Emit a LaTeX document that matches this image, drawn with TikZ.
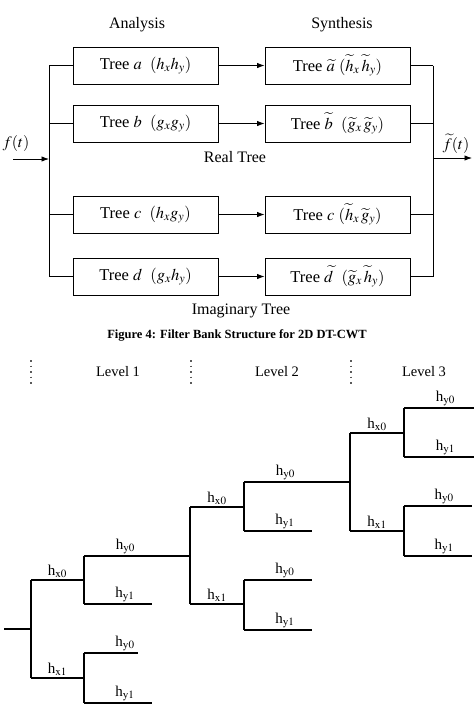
\documentclass[tikz,border=0pt]{standalone}
\usepackage{mathptmx}
\usepackage{fontspec}
\setmainfont{Liberation Serif}
\usetikzlibrary{positioning,arrows.meta}

\begin{document}
\begin{tikzpicture}[x=1pt,y=-1pt,
      treebox/.style={shape=rectangle, draw=black, line width=0.9pt, minimum width=145pt, minimum height=37pt, inner sep=0pt, font=\fontsize{16.5}{19}\selectfont},
      lbl/.style={font=\fontsize{16}{19}\selectfont},
      bus/.style={line width=0.9pt},
      arr/.style={-{Latex[length=7.5pt,width=5.5pt]}},
      branch/.style={line width=1.3pt},
      filt/.style={font=\fontsize{15}{17}\selectfont, inner sep=1.5pt},
      sep/.style={line width=1.6pt, dash pattern=on 1.5pt off 4pt, gray!70!black}]
      \useasboundingbox (0,0) rectangle (474,705);

      % filter bank
      \node[lbl] (analysis) at (137,25) {Analysis};
      \node[lbl] (synthesis) at (342,25) {Synthesis};

      \node[treebox] (a) at (145.5,65.5) {Tree $a$\ \ $(h_xh_y)$};
      \node[treebox] (b) at (145.5,123.5) {Tree $b$\ \ $(g_xg_y)$};
      \node[treebox] (c) at (145.5,214.5) {Tree $c$\ \ $(h_xg_y)$};
      \node[treebox] (d) at (145.5,276.5) {Tree $d$\ \ $(g_xh_y)$};
      \node[treebox] (at) at (337.5,65.5) {Tree $\widetilde{a}$\ $(\widetilde{h}_x\,\widetilde{h}_y)$};
      \node[treebox] (bt) at (337.5,123.5) {Tree $\widetilde{b}$\ \ $(\widetilde{g}_x\,\widetilde{g}_y)$};
      \node[treebox] (ct) at (337.5,214.5) {Tree $c$\ $(\widetilde{h}_x\,\widetilde{g}_y)$};
      \node[treebox] (dt) at (337.5,276.5) {Tree $\widetilde{d}$\ \ $(\widetilde{g}_x\,\widetilde{h}_y)$};

      \node[lbl] (real) at (235,157) {Real Tree};
      \node[lbl] (imag) at (241,311) {Imaginary Tree};
      \node[lbl] (fin) at (16,143) {$f(t)$};
      \node[lbl] (fout) at (456,144) {$\widetilde{f}(t)$};

      \coordinate (la) at (49,65.5);
      \coordinate (lb) at (49,123.5);
      \coordinate (lin) at (49,159);
      \coordinate (lc) at (49,214.5);
      \coordinate (ld) at (49,276.5);
      \coordinate (ra) at (433,65.5);
      \coordinate (rb) at (433,123.5);
      \coordinate (rout) at (433,158);
      \coordinate (rc) at (433,214.5);
      \coordinate (rd) at (433,276.5);
      \coordinate (in) at (13,159);
      \coordinate (out) at (472,158);

      \draw[bus] (la) -- (ld);
      \draw[bus] (ra) -- (rd);
      \path [bus,arr] (in) edge (lin);
      \path [bus,arr] (rout) edge (out);
      \path [bus,-] (la) edge (a) (lb) edge (b) (lc) edge (c) (ld) edge (d);
      \path [bus,-] (at) edge (ra) (bt) edge (rb) (ct) edge (rc) (dt) edge (rd);
      \path [bus,arr] (a) edge (at) (b) edge (bt) (c) edge (ct) (d) edge (dt);

      \node[font=\bfseries\fontsize{12.5}{15}\selectfont] (caption) at (237,335) {Figure 4: Filter Bank Structure for 2D DT-CWT};

      % levels
      \coordinate (s1t) at (31,360);   \coordinate (s1b) at (31,385);
      \coordinate (s2t) at (191,360);  \coordinate (s2b) at (191,385);
      \coordinate (s3t) at (351,360);  \coordinate (s3b) at (351,385);
      \draw[sep] (s1t) -- (s1b);
      \draw[sep] (s2t) -- (s2b);
      \draw[sep] (s3t) -- (s3b);
      \node[font=\fontsize{14.5}{17}\selectfont] (lev1) at (118,372) {Level 1};
      \node[font=\fontsize{14.5}{17}\selectfont] (lev2) at (277,372) {Level 2};
      \node[font=\fontsize{14.5}{17}\selectfont] (lev3) at (424,372) {Level 3};

      % level 1
      \coordinate (root) at (4,629);    \coordinate (j1) at (31,629);
      \coordinate (j1a) at (31,580);    \coordinate (j1b) at (31,678);
      \coordinate (k1a) at (84,580);    \coordinate (k1b) at (84,678);
      \coordinate (k1at) at (84,556);   \coordinate (k1ab) at (84,604);
      \coordinate (k1bt) at (84,653);   \coordinate (k1bb) at (84,703);
      \coordinate (e1at) at (190,556);  \coordinate (e1ab) at (152,604);
      \coordinate (e1bt) at (138,653);  \coordinate (e1bb) at (152,703);

      % level 2
      \coordinate (j2a) at (190,507);   \coordinate (j2b) at (190,604);
      \coordinate (k2a) at (244,507);   \coordinate (k2b) at (244,604);
      \coordinate (k2at) at (244,482);  \coordinate (k2ab) at (244,531);
      \coordinate (k2bt) at (244,580);  \coordinate (k2bb) at (244,630);
      \coordinate (e2at) at (350,482);  \coordinate (e2ab) at (312,531);
      \coordinate (e2bt) at (312,580);  \coordinate (e2bb) at (312,630);

      % level 3
      \coordinate (j3a) at (350,433);   \coordinate (j3b) at (350,531);
      \coordinate (k3a) at (404,433);   \coordinate (k3b) at (404,531);
      \coordinate (k3at) at (404,408);  \coordinate (k3ab) at (404,457);
      \coordinate (k3bt) at (404,506);  \coordinate (k3bb) at (404,556);
      \coordinate (e3at) at (474,408);  \coordinate (e3ab) at (474,457);
      \coordinate (e3bt) at (472,506);  \coordinate (e3bb) at (472,556);

      \draw[branch] (root) -- (j1);
      \draw[branch] (j1a) -- (j1b);
      \draw[branch] (k1at) -- (k1ab);
      \draw[branch] (k1bt) -- (k1bb);
      \draw[branch] (j2a) -- (j2b);
      \draw[branch] (k2at) -- (k2ab);
      \draw[branch] (k2bt) -- (k2bb);
      \draw[branch] (j3a) -- (j3b);
      \draw[branch] (k3at) -- (k3ab);
      \draw[branch] (k3bt) -- (k3bb);

      \path [branch,-] (j1a) edge node[filt,above] {h$_{\mathrm{x0}}$} (k1a);
      \path [branch,-] (j1b) edge node[filt,above] {h$_{\mathrm{x1}}$} (k1b);
      \path [branch,-] (k1at) edge node[filt,above,pos=.39] {h$_{\mathrm{y0}}$} (e1at);
      \path [branch,-] (k1ab) edge node[filt,above,pos=.6] {h$_{\mathrm{y1}}$} (e1ab);
      \path [branch,-] (k1bt) edge node[filt,above,pos=.76] {h$_{\mathrm{y0}}$} (e1bt);
      \path [branch,-] (k1bb) edge node[filt,above,pos=.6] {h$_{\mathrm{y1}}$} (e1bb);

      \path [branch,-] (j2a) edge node[filt,above] {h$_{\mathrm{x0}}$} (k2a);
      \path [branch,-] (j2b) edge node[filt,above] {h$_{\mathrm{x1}}$} (k2b);
      \path [branch,-] (k2at) edge node[filt,above,pos=.39] {h$_{\mathrm{y0}}$} (e2at);
      \path [branch,-] (k2ab) edge node[filt,above,pos=.6] {h$_{\mathrm{y1}}$} (e2ab);
      \path [branch,-] (k2bt) edge node[filt,above,pos=.6] {h$_{\mathrm{y0}}$} (e2bt);
      \path [branch,-] (k2bb) edge node[filt,above,pos=.6] {h$_{\mathrm{y1}}$} (e2bb);

      \path [branch,-] (j3a) edge node[filt,above] {h$_{\mathrm{x0}}$} (k3a);
      \path [branch,-] (j3b) edge node[filt,above] {h$_{\mathrm{x1}}$} (k3b);
      \path [branch,-] (k3at) edge node[filt,above,pos=.59] {h$_{\mathrm{y0}}$} (e3at);
      \path [branch,-] (k3ab) edge node[filt,above,pos=.59] {h$_{\mathrm{y1}}$} (e3ab);
      \path [branch,-] (k3bt) edge node[filt,above,pos=.59] {h$_{\mathrm{y0}}$} (e3bt);
      \path [branch,-] (k3bb) edge node[filt,above,pos=.59] {h$_{\mathrm{y1}}$} (e3bb);

      \end{tikzpicture}
\end{document}
